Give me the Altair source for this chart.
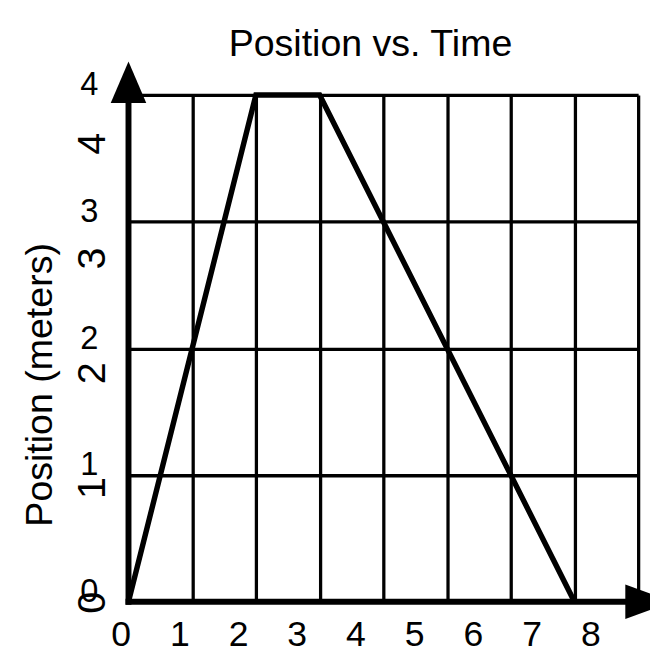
import altair as alt
import pandas as pd

# ---- data ----
time_vals = [0, 2, 3, 7]          # grid units (time)
pos_vals = [0, 4, 4, 0]           # meters
x_grid = [0, 1, 2, 3, 4, 5, 6, 7, 8]
y_grid = [0, 1, 2, 3, 4]
x_tick_labels = ["0", "1", "2", "3", "4", "5", "6", "7", "8"]
y_tick_labels = ["0", "1", "2", "3", "4"]

FONT = "Liberation Sans"
W, H = 516, 513

line_df = pd.DataFrame({"t": time_vals, "pos": pos_vals})
xl_df = pd.DataFrame({"v": [int(s) for s in x_tick_labels], "label": x_tick_labels})
yl_df = pd.DataFrame({"v": [int(s) for s in y_tick_labels], "label": y_tick_labels})
one = pd.DataFrame({"k": [0]})

line = alt.Chart(line_df).mark_line(color="black", strokeWidth=5.5, strokeJoin="miter").encode(
    x=alt.X("t:Q",
            scale=alt.Scale(domain=[0, 8], nice=False, zero=False),
            axis=alt.Axis(values=x_grid, grid=True, gridColor="black", gridWidth=3.3,
                          gridOpacity=1, labels=False, ticks=False, domain=False,
                          title=None)),
    y=alt.Y("pos:Q",
            scale=alt.Scale(domain=[0, 4], nice=False, zero=False),
            axis=alt.Axis(values=y_grid, grid=True, gridColor="black", gridWidth=3.3,
                          gridOpacity=1, ticks=False, tickSize=0, domain=False,
                          labelFont=FONT, labelFontSize=33, labelColor="black",
                          labelAlign="right", labelBaseline="alphabetic",
                          labelPadding=31, labelFlush=False, labelOverlap=False,
                          format="d",
                          title="Position (meters)", titleFont=FONT, titleFontSize=38,
                          titleFontWeight="normal", titleColor="black",
                          titleAngle=270, titleX=-78, titleY=293,
                          titleAlign="center", titleBaseline="alphabetic")),
)

# thick axis lines
y_axis_line = alt.Chart(one).mark_rule(color="black", strokeWidth=6, strokeCap="butt").encode(
    x=alt.value(0), y=alt.value(H + 3), y2=alt.value(0)
)
x_axis_line = alt.Chart(one).mark_rule(color="black", strokeWidth=6, strokeCap="butt").encode(
    x=alt.value(-3), x2=alt.value(505), y=alt.value(H)
)

# arrow heads
y_arrow = alt.Chart(one).mark_point(
    shape="M0,-1L0.857,1L-0.857,1Z", filled=True, size=1764, color="black",
    opacity=1, strokeWidth=0
).encode(x=alt.value(0), y=alt.value(-13))
x_arrow = alt.Chart(one).mark_point(
    shape="M1,0L-1,-0.729L-1,0.729Z", filled=True, size=2304, color="black",
    opacity=1, strokeWidth=0
).encode(x=alt.value(527), y=alt.value(H))

# x tick labels (own scale)
x_labels = alt.Chart(xl_df).mark_text(
    font=FONT, fontSize=36, color="black", align="center", baseline="alphabetic"
).encode(
    x=alt.X("v:Q", scale=alt.Scale(domain=[0.126, 8.807], nice=False, zero=False), axis=None),
    y=alt.value(H + 45),
    text="label:N",
)

# rotated y tick labels (own scale)
y_rot_labels = alt.Chart(yl_df).mark_text(
    font=FONT, fontSize=40, color="black", align="center", baseline="alphabetic", angle=270
).encode(
    y=alt.Y("v:Q", scale=alt.Scale(domain=[0.0103, 4.425], nice=False, zero=False), axis=None),
    x=alt.value(-23.5),
    text="label:N",
)

chart = alt.layer(
    line, y_axis_line, x_axis_line, y_arrow, x_arrow, x_labels, y_rot_labels
).resolve_scale(
    x="independent", y="independent"
).properties(
    width=W, height=H,
    title=alt.TitleParams("Position vs. Time", font=FONT, fontSize=38, fontWeight="normal",
                          color="black", anchor="middle", frame="group", dx=-13,
                          baseline="alphabetic", offset=-33),
    autosize=alt.AutoSizeParams(type="none"),
    padding={"left": 122, "top": 84, "right": 12, "bottom": 57},
).configure_view(strokeWidth=0)

chart.save("out.html", embed_options={"renderer": "svg", "actions": False})
